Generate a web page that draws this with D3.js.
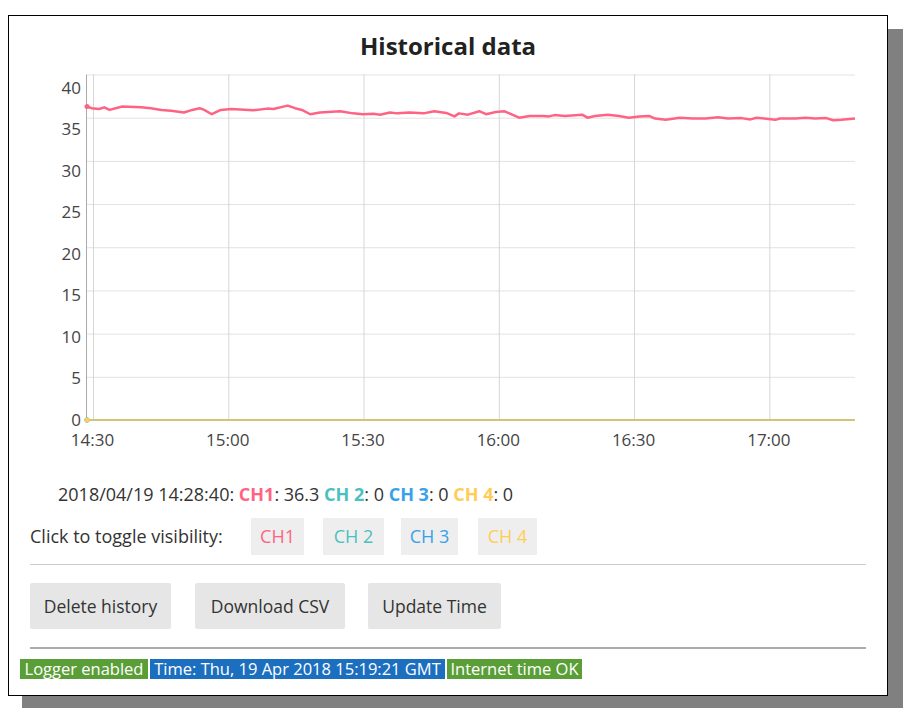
<!DOCTYPE html>
<html>
<head>
<meta charset="utf-8">
<script src="https://cdn.jsdelivr.net/npm/d3@7"></script>
<style>
  body { margin: 0; background: #fff; }
  svg text { font-family: "Open Sans", "Noto Sans", sans-serif; }
</style>
</head>
<body>
<svg id="chart" width="914" height="708"></svg>
<script>
// readings of CH1, one every couple of minutes
const times = ['14:28:40','14:29:40','14:31:20','14:32:30','14:33:40','14:36:30','14:40:40','14:42:50','14:45:10','14:47:20',
  '14:50:10','14:52:00','14:53:40','14:54:40','14:56:20','14:58:20','15:00:40','15:02:40','15:05:30','15:08:40',
  '15:10:00','15:13:10','15:14:50','15:16:20','15:18:10','15:20:20','15:24:50','15:27:40','15:29:50','15:32:10',
  '15:33:40','15:35:50','15:37:30','15:40:10','15:43:20','15:45:40','15:48:20','15:50:10','15:51:10','15:53:10',
  '15:55:40','15:57:10','15:59:20','16:01:10','16:02:20','16:04:30','16:06:50','16:09:50','16:11:10','16:12:20',
  '16:14:40','16:18:30','16:19:40','16:21:20','16:24:10','16:26:40','16:28:50','16:31:10','16:33:20','16:34:40',
  '16:37:00','16:40:10','16:43:00','16:45:50','16:48:40','16:50:50','16:53:50','16:55:50','16:57:10','16:59:50',
  '17:01:20','17:02:20','17:05:50','17:08:00','17:10:10','17:12:40','17:14:10','17:16:00','17:19:00'];
const ch1 = [36.3,36.1,36.0,36.2,35.9,36.3,36.2,36.1,35.9,35.8,
  35.6,35.9,36.1,35.9,35.4,35.9,36.0,35.95,35.85,36.05,
  36.0,36.4,36.1,35.9,35.4,35.6,35.75,35.5,35.4,35.45,
  35.35,35.6,35.5,35.6,35.5,35.75,35.55,35.15,35.5,35.35,
  35.75,35.4,35.65,35.75,35.5,35.0,35.2,35.2,35.15,35.3,
  35.2,35.35,35.0,35.2,35.35,35.2,35.0,35.15,35.2,34.9,
  34.75,35.0,34.9,34.9,35.05,34.9,34.95,34.8,35.0,34.85,
  34.75,34.9,34.9,35.0,34.9,34.95,34.7,34.75,34.9];
const ch2 = [0,0,0,0,0,0,0,0,0,0,0,0,0,0,0,0,0,0,0,0,0,0,0,0,0,0,0,0,0,0,0,0,0,0,0,0,0,0,0,0,
  0,0,0,0,0,0,0,0,0,0,0,0,0,0,0,0,0,0,0,0,0,0,0,0,0,0,0,0,0,0,0,0,0,0,0,0,0,0,0];
const ch3 = [0,0,0,0,0,0,0,0,0,0,0,0,0,0,0,0,0,0,0,0,0,0,0,0,0,0,0,0,0,0,0,0,0,0,0,0,0,0,0,0,
  0,0,0,0,0,0,0,0,0,0,0,0,0,0,0,0,0,0,0,0,0,0,0,0,0,0,0,0,0,0,0,0,0,0,0,0,0,0,0];
const ch4 = [0,0,0,0,0,0,0,0,0,0,0,0,0,0,0,0,0,0,0,0,0,0,0,0,0,0,0,0,0,0,0,0,0,0,0,0,0,0,0,0,
  0,0,0,0,0,0,0,0,0,0,0,0,0,0,0,0,0,0,0,0,0,0,0,0,0,0,0,0,0,0,0,0,0,0,0,0,0,0,0];

const channelNames = ['CH1', 'CH 2', 'CH 3', 'CH 4'];
const channelColors = ['rgb(255,99,132)', 'rgb(75,192,192)', 'rgb(54,162,235)', 'rgb(255,205,86)'];
const xTickLabels = ['14:30', '15:00', '15:30', '16:00', '16:30', '17:00'];
const yTicks = [0, 5, 10, 15, 20, 25, 30, 35, 40];
const lastReading = ['2018/04/19 14:28:40', 36.3, 0, 0, 0];
const buttonLabels = ['Delete history', 'Download CSV', 'Update Time'];
const statusLabels = ['Logger enabled', 'Time: Thu, 19 Apr 2018 15:19:21 GMT', 'Internet time OK'];

const svg = d3.select('#chart');
const parse = d3.timeParse('%H:%M:%S');
const parseHM = d3.timeParse('%H:%M');
const xTicks = xTickLabels.map(parseHM);

// page box with the drop shadow
svg.append('rect').attr('x', 22).attr('y', 29).attr('width', 881).attr('height', 679).attr('fill', '#808080');
svg.append('rect').attr('x', 8.5).attr('y', 15.5).attr('width', 879).attr('height', 680)
.attr('fill', '#fff').attr('stroke', '#000').attr('stroke-width', 1);

svg.append('text')
.attr('x', 448).attr('y', 55)
.attr('text-anchor', 'middle')
.style('font-size', '24px').style('font-weight', 'bold').style('fill', '#222')
.text('Historical data');

const plotL = 87, plotR = 855, plotT = 74.5, plotB = 420;

const x = d3.scaleTime()
.domain([parse(times[0]), parse(times[times.length - 1])])
.range([plotL, plotR]);

const y = d3.scaleLinear().domain([0, 40]).range([plotB, plotT]);
// tick labels sit a bit lower than the grid in the reference
const yLabel = d3.scaleLinear().domain([0, 40]).range([plotB, 88]);

// horizontal grid
svg.append('g')
.attr('transform', `translate(${plotL}, 0)`)
.call(d3.axisLeft(y).tickValues(yTicks).tickSize(-(plotR - plotL)).tickFormat(''))
.call(g => g.select('.domain').remove())
.call(g => g.selectAll('line').attr('stroke', '#e2e2e2'));

// vertical grid
svg.append('g')
.attr('transform', `translate(0, ${plotB})`)
.call(d3.axisBottom(x).tickValues(xTicks).tickSize(-(plotB - plotT)).tickFormat(''))
.call(g => g.select('.domain').remove())
.call(g => g.selectAll('line').attr('stroke', '#d6d6d6'));

svg.append('line')
.attr('x1', plotL - 0.5).attr('x2', plotL - 0.5).attr('y1', plotT).attr('y2', plotB)
.attr('stroke', '#aaa');

svg.append('g')
.attr('transform', `translate(${plotL - 1}, 0)`)
.call(d3.axisLeft(yLabel).tickValues(yTicks).tickSize(0).tickPadding(5))
.call(g => g.select('.domain').remove())
.call(g => g.selectAll('text').style('font-size', '17px').style('fill', '#444')
  .style('font-family', '"Open Sans", sans-serif'));

svg.append('g')
.attr('transform', `translate(-1, ${plotB})`)
.call(d3.axisBottom(x).tickValues(xTicks).tickFormat(d3.timeFormat('%H:%M')).tickSize(0).tickPadding(14))
.call(g => g.select('.domain').remove())
.call(g => g.selectAll('text').style('font-size', '17px').style('fill', '#444')
  .style('font-family', '"Open Sans", sans-serif'));

const series = [ch1, ch2, ch3, ch4];
const lineFn = d3.line().x(d => x(d.t)).y(d => y(d.v));

series.forEach((vals, i) => {
  const pts = times.map((t, j) => ({t: parse(t), v: vals[j]}));
  svg.append('path')
  .datum(pts)
  .attr('fill', 'none')
  .attr('stroke', channelColors[i])
  .attr('stroke-width', i === 0 ? 2.5 : 1.5)
  .attr('stroke-linejoin', 'round')
  .attr('d', lineFn);
  svg.append('circle')
  .attr('cx', x(pts[0].t)).attr('cy', y(pts[0].v)).attr('r', 2.5)
  .attr('fill', channelColors[i]);
});

// last reading line
const info = svg.append('text')
.attr('x', 58).attr('y', 501)
.style('font-size', '18px').style('fill', '#333');
info.append('tspan').text(lastReading[0] + ': ');
channelNames.forEach((n, i) => {
  info.append('tspan').style('font-weight', 'bold').style('fill', channelColors[i]).text(n);
  info.append('tspan').text(': ' + lastReading[i + 1] + (i < 3 ? ' ' : ''));
});

svg.append('text')
.attr('x', 30).attr('y', 543)
.style('font-size', '18px').style('fill', '#333')
.text('Click to toggle visibility:');

const toggleX = [251, 323, 401, 478];
const toggleW = [53, 61, 57, 59];
channelNames.forEach((n, i) => {
  svg.append('rect')
  .attr('x', toggleX[i]).attr('y', 518).attr('width', toggleW[i]).attr('height', 37)
  .attr('fill', '#eee');
  svg.append('text')
  .attr('x', toggleX[i] + toggleW[i] / 2).attr('y', 543)
  .attr('text-anchor', 'middle')
  .style('font-size', '18px').style('fill', channelColors[i])
  .text(n);
});

svg.append('line').attr('x1', 30).attr('x2', 866).attr('y1', 564.5).attr('y2', 564.5).attr('stroke', '#ccc');

const btnX = [30, 195, 368];
const btnW = [141, 150, 133];
buttonLabels.forEach((b, i) => {
  svg.append('rect')
  .attr('x', btnX[i]).attr('y', 583).attr('width', btnW[i]).attr('height', 46).attr('rx', 2)
  .attr('fill', '#e6e6e6');
  svg.append('text')
  .attr('x', btnX[i] + btnW[i] / 2).attr('y', 613)
  .attr('text-anchor', 'middle')
  .style('font-size', '17.5px').style('fill', '#333')
  .text(b);
});

svg.append('line').attr('x1', 30).attr('x2', 866).attr('y1', 648).attr('y2', 648).attr('stroke', '#aaa').attr('stroke-width', 2);

const badgeX = [20, 150, 447];
const badgeW = [128, 295, 135];
const badgeColors = ['#5a9e38', '#1c6fbf', '#5a9e38'];
statusLabels.forEach((s, i) => {
  svg.append('rect')
  .attr('x', badgeX[i]).attr('y', 659).attr('width', badgeW[i]).attr('height', 20)
  .attr('fill', badgeColors[i]);
  svg.append('text')
  .attr('x', badgeX[i] + badgeW[i] / 2).attr('y', 675)
  .attr('text-anchor', 'middle')
  .style('font-size', '16.5px').style('fill', '#fff')
  .text(s);
});
</script>
</body>
</html>
